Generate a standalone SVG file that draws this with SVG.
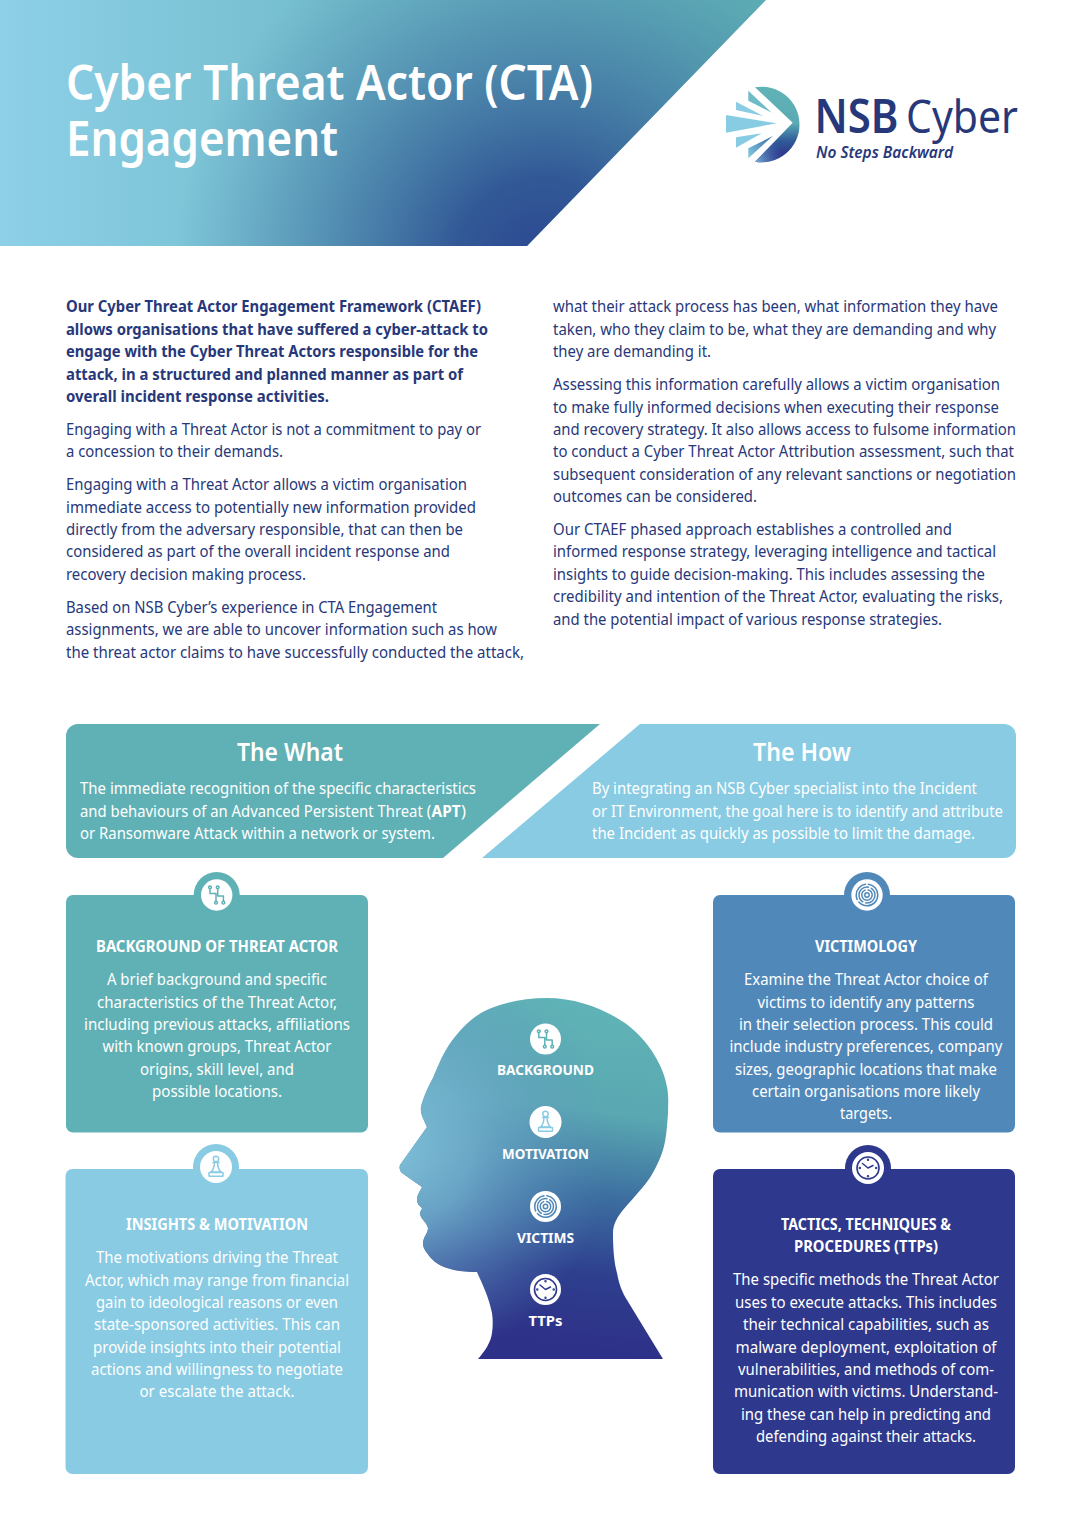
<svg xmlns="http://www.w3.org/2000/svg" width="1090" height="1520" viewBox="0 0 1090 1520">
<style>
text{font-family:"Noto Sans","Open Sans","Liberation Sans",sans-serif;}
.b{font-size:16px;fill:#27387a;}
.bb{font-size:16px;fill:#27387a;font-weight:700;}
.p{font-size:16.5px;fill:#fff;}
.pb{font-size:16.5px;fill:#fff;font-weight:700;}
.c{font-size:16.5px;fill:#fff;text-anchor:middle;}
.h{font-size:16px;fill:#fff;font-weight:700;text-anchor:middle;}
.t{font-size:26px;fill:#fff;font-weight:600;text-anchor:middle;}
.title{font-size:48px;fill:#fff;font-weight:600;}
.hl{font-size:14.5px;fill:#fff;font-weight:700;text-anchor:middle;}
.ic{fill:none;stroke:currentColor;stroke-width:1.5;stroke-linecap:round;stroke-linejoin:round;}
</style>
<defs>
<linearGradient id="g1" x1="0" y1="0" x2="766" y2="0" gradientUnits="userSpaceOnUse"><stop offset="0" stop-color="#8dd0e8"/><stop offset="0.45" stop-color="#72bccb"/><stop offset="1" stop-color="#5fb1b5"/></linearGradient>
<radialGradient id="g2" cx="545" cy="270" r="370" gradientUnits="userSpaceOnUse"><stop offset="0" stop-color="#2b4690"/><stop offset="0.25" stop-color="#2f5494" stop-opacity="0.95"/><stop offset="1" stop-color="#3f78a4" stop-opacity="0"/></radialGradient>
<linearGradient id="hg" x1="600" y1="1010" x2="560" y2="1345" gradientUnits="userSpaceOnUse"><stop offset="0" stop-color="#5fb3b6"/><stop offset="0.3" stop-color="#5aa8b2"/><stop offset="0.55" stop-color="#3c6ea0"/><stop offset="0.78" stop-color="#2e3f8e"/><stop offset="1" stop-color="#2e3188"/></linearGradient>
<radialGradient id="hl" cx="395" cy="1150" r="215" gradientUnits="userSpaceOnUse"><stop offset="0" stop-color="#7fbfd8"/><stop offset="0.35" stop-color="#74b2cf" stop-opacity="0.8"/><stop offset="1" stop-color="#5a8dbd" stop-opacity="0"/></radialGradient>
<linearGradient id="lg" x1="770" y1="90" x2="770" y2="165" gradientUnits="userSpaceOnUse"><stop offset="0" stop-color="#5fb3b6"/><stop offset="0.45" stop-color="#5aa9b4"/><stop offset="0.68" stop-color="#2f5a98"/><stop offset="0.85" stop-color="#2e3a8c"/></linearGradient>
<linearGradient id="lf" x1="755" y1="160" x2="782" y2="150" gradientUnits="userSpaceOnUse"><stop offset="0" stop-color="#7ab0d2"/><stop offset="1" stop-color="#3f6cab" stop-opacity="0"/></linearGradient>
<linearGradient id="lr" x1="748" y1="155" x2="773" y2="137" gradientUnits="userSpaceOnUse"><stop offset="0" stop-color="#80c4de"/><stop offset="1" stop-color="#3b68a4"/></linearGradient>
<g id="i-circuit" class="ic"><circle cx="-6.7" cy="-7.7" r="1.4"/><circle cx="1" cy="-7.7" r="1.4"/><circle cx="-0.7" cy="7.7" r="1.4"/><circle cx="6.7" cy="7.7" r="1.4"/><path d="M-6.7-6.3V-1.500H-.7V6.300M1-6.300V1H6.700V6.300"/></g>
<g id="i-pawn" class="ic"><circle cx="0" cy="-8" r="2.7"/><path d="M-3-4.6H3M-1.6-4.6C-1.6 0-3 3-5 5H5C3 3 1.6 0 1.6-4.6"/><rect x="-7" y="5.5" width="14" height="3.8" rx="0.6"/></g>
<g id="i-maze" class="ic"><circle cx="0" cy="0" r="2.2"/><circle cx="0" cy="0" r="5.2" stroke-dasharray="22 3"/><circle cx="0" cy="0" r="8" stroke-dasharray="14 3 22 3"/><circle cx="0" cy="0" r="10.8" stroke-dasharray="26 3 20 3"/></g>
<g id="i-clock" class="ic"><circle cx="0" cy="0" r="11" stroke-width="1.6"/><path d="M-5.5-4.5L0 0L5-2.5" stroke-width="1.5"/><circle cx="0" cy="-8.2" r=".5"/><circle cx="0" cy="8.2" r=".5"/><circle cx="-8.2" cy="0" r=".5"/><circle cx="8.2" cy="0" r=".5"/></g>
<path id="head-shape" d="M547 998C575 998 603 1008 625 1023C650 1041 664 1068 667 1087C669 1097 668 1105 668 1113C667 1128 666 1142 662 1153C657 1167 650 1179 643 1187C636 1195 629 1203 623 1210C617 1217 613 1225 613 1233C613 1248 614 1262 617 1273C619 1284 622 1292 627 1300L663 1359H478C485 1351 491 1342 492 1333C493 1326 493 1319 492 1313C489 1298 483 1285 477 1272C466 1272 456 1271 447 1268C437 1265 431 1259 427 1253C423 1248 423 1245 423 1242C424 1236 428 1233 428 1228C427 1222 420 1219 420 1213C420 1211 422 1210 422 1208C419 1206 417 1203 417 1200C417 1194 421 1190 422 1187L402 1173C400 1171 399 1168 400 1165L427 1127C424 1120 420 1114 421 1107C423 1098 428 1087 433 1078C437 1069 440 1060 446 1050C453 1038 463 1026 475 1017C488 1007 515 998 547 998Z"/>
</defs>

<g id="header">
<path d="M0 0H766L527 246H0Z" fill="url(#g1)"/>
<path d="M0 0H766L527 246H0Z" fill="url(#g2)"/>
<text class="title" x="66" y="100" textLength="527" lengthAdjust="spacingAndGlyphs">Cyber Threat Actor (CTA)</text>
<text class="title" x="66" y="156" textLength="272" lengthAdjust="spacingAndGlyphs">Engagement</text>
</g>

<g id="logo">
<path d="M755 87.3A37.8 37.8 0 1 1 755 161.7L792.7 122.7Z" fill="url(#lg)"/>
<path d="M755 87.3A37.8 37.8 0 1 1 755 161.7L792.7 122.7Z" fill="url(#lf)"/>
<path d="M748.3 90.7L771.7 112.7L748.3 100.7Z" fill="#6fbcc8"/>
<path d="M736 101.7L763.3 116L736 110Z" fill="#8acce4"/>
<path d="M726 115L776.7 123.3L726 132.7Z" fill="#88cce4"/>
<path d="M736 137.3L761.7 133.3L736 147.7Z" fill="#88cce4"/>
<path d="M748.3 148.3L772.7 136L748.3 158.3Z" fill="url(#lr)"/>
<text x="814.500" y="133" textLength="84" lengthAdjust="spacingAndGlyphs" style="font-size:46px;font-weight:600;fill:#27387a">NSB</text>
<text x="906" y="133" textLength="112" lengthAdjust="spacingAndGlyphs" style="font-size:46px;fill:#27387a">Cyber</text>
<text x="816" y="158" textLength="137" lengthAdjust="spacingAndGlyphs" style="font-size:15.5px;font-weight:600;font-style:italic;fill:#27387a">No Steps Backward</text>
</g>

<g id="intro-left">
<text class="bb" x="66" y="312" textLength="415" lengthAdjust="spacingAndGlyphs">Our Cyber Threat Actor Engagement Framework (CTAEF)</text>
<text class="bb" x="66" y="335" textLength="422" lengthAdjust="spacingAndGlyphs">allows organisations that have suffered a cyber-attack to</text>
<text class="bb" x="66" y="357" textLength="412" lengthAdjust="spacingAndGlyphs">engage with the Cyber Threat Actors responsible for the</text>
<text class="bb" x="66" y="380" textLength="397" lengthAdjust="spacingAndGlyphs">attack, in a structured and planned manner as part of</text>
<text class="bb" x="66" y="402" textLength="263" lengthAdjust="spacingAndGlyphs">overall incident response activities.</text>
<text class="b" x="66" y="435" textLength="415" lengthAdjust="spacingAndGlyphs">Engaging with a Threat Actor is not a commitment to pay or</text>
<text class="b" x="66" y="457" textLength="217" lengthAdjust="spacingAndGlyphs">a concession to their demands.</text>
<text class="b" x="66" y="490" textLength="401" lengthAdjust="spacingAndGlyphs">Engaging with a Threat Actor allows a victim organisation</text>
<text class="b" x="66" y="513" textLength="410" lengthAdjust="spacingAndGlyphs">immediate access to potentially new information provided</text>
<text class="b" x="66" y="535" textLength="397" lengthAdjust="spacingAndGlyphs">directly from the adversary responsible, that can then be</text>
<text class="b" x="66" y="557" textLength="384" lengthAdjust="spacingAndGlyphs">considered as part of the overall incident response and</text>
<text class="b" x="66" y="580" textLength="240" lengthAdjust="spacingAndGlyphs">recovery decision making process.</text>
<text class="b" x="66" y="613" textLength="371" lengthAdjust="spacingAndGlyphs">Based on NSB Cyber’s experience in CTA Engagement</text>
<text class="b" x="66" y="635" textLength="431" lengthAdjust="spacingAndGlyphs">assignments, we are able to uncover information such as how</text>
<text class="b" x="66" y="658" textLength="458" lengthAdjust="spacingAndGlyphs">the threat actor claims to have successfully conducted the attack,</text>
</g>

<g id="intro-right">
<text class="b" x="553" y="312" textLength="445" lengthAdjust="spacingAndGlyphs">what their attack process has been, what information they have</text>
<text class="b" x="553" y="335" textLength="443" lengthAdjust="spacingAndGlyphs">taken, who they claim to be, what they are demanding and why</text>
<text class="b" x="553" y="357" textLength="158" lengthAdjust="spacingAndGlyphs">they are demanding it.</text>
<text class="b" x="553" y="390" textLength="447" lengthAdjust="spacingAndGlyphs">Assessing this information carefully allows a victim organisation</text>
<text class="b" x="553" y="413" textLength="446" lengthAdjust="spacingAndGlyphs">to make fully informed decisions when executing their response</text>
<text class="b" x="553" y="435" textLength="463" lengthAdjust="spacingAndGlyphs">and recovery strategy. It also allows access to fulsome information</text>
<text class="b" x="553" y="457" textLength="461" lengthAdjust="spacingAndGlyphs">to conduct a Cyber Threat Actor Attribution assessment, such that</text>
<text class="b" x="553" y="480" textLength="463" lengthAdjust="spacingAndGlyphs">subsequent consideration of any relevant sanctions or negotiation</text>
<text class="b" x="553" y="502" textLength="204" lengthAdjust="spacingAndGlyphs">outcomes can be considered.</text>
<text class="b" x="553" y="535" textLength="399" lengthAdjust="spacingAndGlyphs">Our CTAEF phased approach establishes a controlled and</text>
<text class="b" x="553" y="557" textLength="443" lengthAdjust="spacingAndGlyphs">informed response strategy, leveraging intelligence and tactical</text>
<text class="b" x="553" y="580" textLength="432" lengthAdjust="spacingAndGlyphs">insights to guide decision-making. This includes assessing the</text>
<text class="b" x="553" y="602" textLength="450" lengthAdjust="spacingAndGlyphs">credibility and intention of the Threat Actor, evaluating the risks,</text>
<text class="b" x="553" y="625" textLength="389" lengthAdjust="spacingAndGlyphs">and the potential impact of various response strategies.</text>
</g>

<g id="the-what">
<path d="M78 724H600L443 858H78A12 12 0 0 1 66 846V736A12 12 0 0 1 78 724Z" fill="#5fb1b5"/>
<text class="t" x="290" y="761" textLength="106" lengthAdjust="spacingAndGlyphs">The What</text>
<text class="p" x="80" y="794" textLength="396" lengthAdjust="spacingAndGlyphs">The immediate recognition of the specific characteristics</text>
<text class="p" transform="translate(80 817) scale(.88 1)" textLength="399" lengthAdjust="spacingAndGlyphs">and behaviours of an Advanced Persistent Threat (</text>
<text class="pb" transform="translate(431.500 817) scale(.88 1)" textLength="33" lengthAdjust="spacingAndGlyphs">APT</text>
<text class="p" transform="translate(461 817) scale(.88 1)" textLength="5.700" lengthAdjust="spacingAndGlyphs">)</text>
<text class="p" x="80" y="839" textLength="355" lengthAdjust="spacingAndGlyphs">or Ransomware Attack within a network or system.</text>
</g>

<g id="the-how">
<path d="M640 724H1004A12 12 0 0 1 1016 736V846A12 12 0 0 1 1004 858H482Z" fill="#88cbe3"/>
<text class="t" x="802" y="761" textLength="98" lengthAdjust="spacingAndGlyphs">The How</text>
<text class="p" x="592" y="794" textLength="385" lengthAdjust="spacingAndGlyphs">By integrating an NSB Cyber specialist into the Incident</text>
<text class="p" x="592" y="817" textLength="411" lengthAdjust="spacingAndGlyphs">or IT Environment, the goal here is to identify and attribute</text>
<text class="p" x="592" y="839" textLength="383" lengthAdjust="spacingAndGlyphs">the Incident as quickly as possible to limit the damage.</text>
</g>

<g id="card-background" style="color:#5fb1b5">
<rect x="66" y="895" width="302" height="237.500" rx="7" fill="#5fb1b5"/>
<circle cx="216.700" cy="895" r="23" fill="#5fb1b5"/>
<circle cx="216.700" cy="895" r="15.700" fill="#fff"/>
<use href="#i-circuit" x="216.700" y="895"/>
<text class="h" x="217" y="952" textLength="242" lengthAdjust="spacingAndGlyphs">BACKGROUND OF THREAT ACTOR</text>
<text class="c" x="217" y="985" textLength="220" lengthAdjust="spacingAndGlyphs">A brief background and specific</text>
<text class="c" x="217" y="1008" textLength="240" lengthAdjust="spacingAndGlyphs">characteristics of the Threat Actor,</text>
<text class="c" x="217" y="1030" textLength="266" lengthAdjust="spacingAndGlyphs">including previous attacks, affiliations</text>
<text class="c" x="217" y="1052" textLength="229" lengthAdjust="spacingAndGlyphs">with known groups, Threat Actor</text>
<text class="c" x="217" y="1075" textLength="154" lengthAdjust="spacingAndGlyphs">origins, skill level, and</text>
<text class="c" x="217" y="1097" textLength="130" lengthAdjust="spacingAndGlyphs">possible locations.</text>
</g>

<g id="card-insights" style="color:#88cbe3">
<rect x="65.500" y="1169" width="302.500" height="305" rx="7" fill="#88cbe3"/>
<circle cx="216" cy="1167" r="23" fill="#88cbe3"/>
<circle cx="216" cy="1167" r="16" fill="#fff"/>
<use href="#i-pawn" x="216" y="1167"/>
<text class="h" x="217" y="1230" textLength="182" lengthAdjust="spacingAndGlyphs">INSIGHTS &amp; MOTIVATION</text>
<text class="c" x="217" y="1263" textLength="242" lengthAdjust="spacingAndGlyphs">The motivations driving the Threat</text>
<text class="c" x="217" y="1286" textLength="264" lengthAdjust="spacingAndGlyphs">Actor, which may range from financial</text>
<text class="c" x="217" y="1308" textLength="242" lengthAdjust="spacingAndGlyphs">gain to ideological reasons or even</text>
<text class="c" x="217" y="1330" textLength="246" lengthAdjust="spacingAndGlyphs">state-sponsored activities. This can</text>
<text class="c" x="217" y="1353" textLength="248" lengthAdjust="spacingAndGlyphs">provide insights into their potential</text>
<text class="c" x="217" y="1375" textLength="252" lengthAdjust="spacingAndGlyphs">actions and willingness to negotiate</text>
<text class="c" x="217" y="1397" textLength="155" lengthAdjust="spacingAndGlyphs">or escalate the attack.</text>
</g>

<g id="card-victimology" style="color:#5188ba">
<rect x="713" y="895" width="302" height="237.500" rx="7" fill="#5188ba"/>
<circle cx="867" cy="895" r="23" fill="#5188ba"/>
<circle cx="867" cy="895" r="15.700" fill="#fff"/>
<use href="#i-maze" x="867" y="895"/>
<text class="h" x="866" y="952" textLength="102" lengthAdjust="spacingAndGlyphs">VICTIMOLOGY</text>
<text class="c" x="866" y="985" textLength="244" lengthAdjust="spacingAndGlyphs">Examine the Threat Actor choice of</text>
<text class="c" x="866" y="1008" textLength="217" lengthAdjust="spacingAndGlyphs">victims to identify any patterns</text>
<text class="c" x="866" y="1030" textLength="254" lengthAdjust="spacingAndGlyphs">in their selection process. This could</text>
<text class="c" x="866" y="1052" textLength="273" lengthAdjust="spacingAndGlyphs">include industry preferences, company</text>
<text class="c" x="866" y="1075" textLength="262" lengthAdjust="spacingAndGlyphs">sizes, geographic locations that make</text>
<text class="c" x="866" y="1097" textLength="228" lengthAdjust="spacingAndGlyphs">certain organisations more likely</text>
<text class="c" x="866" y="1119" textLength="52" lengthAdjust="spacingAndGlyphs">targets.</text>
</g>

<g id="card-ttps" style="color:#2e388c">
<rect x="713" y="1169" width="302" height="305" rx="7" fill="#2e388c"/>
<circle cx="868" cy="1168" r="23" fill="#2e388c"/>
<circle cx="868" cy="1168" r="16" fill="#fff"/>
<use href="#i-clock" x="868" y="1168"/>
<text class="h" x="866" y="1230" textLength="170" lengthAdjust="spacingAndGlyphs">TACTICS, TECHNIQUES &amp;</text>
<text class="h" x="866" y="1252" textLength="144" lengthAdjust="spacingAndGlyphs">PROCEDURES (TTPs)</text>
<text class="c" x="866" y="1285" textLength="266" lengthAdjust="spacingAndGlyphs">The specific methods the Threat Actor</text>
<text class="c" x="866" y="1308" textLength="262" lengthAdjust="spacingAndGlyphs">uses to execute attacks. This includes</text>
<text class="c" x="866" y="1330" textLength="246" lengthAdjust="spacingAndGlyphs">their technical capabilities, such as</text>
<text class="c" x="866" y="1353" textLength="261" lengthAdjust="spacingAndGlyphs">malware deployment, exploitation of</text>
<text class="c" x="866" y="1375" textLength="256" lengthAdjust="spacingAndGlyphs">vulnerabilities, and methods of com-</text>
<text class="c" x="866" y="1397" textLength="264" lengthAdjust="spacingAndGlyphs">munication with victims. Understand-</text>
<text class="c" x="866" y="1420" textLength="250" lengthAdjust="spacingAndGlyphs">ing these can help in predicting and</text>
<text class="c" x="866" y="1442" textLength="220" lengthAdjust="spacingAndGlyphs">defending against their attacks.</text>
</g>

<g id="head">
<use href="#head-shape" fill="url(#hg)"/>
<use href="#head-shape" fill="url(#hl)"/>
<g style="color:#5fb1b5"><circle cx="545.500" cy="1039" r="15.500" fill="#fff"/><use href="#i-circuit" x="545.500" y="1039"/></g>
<text class="hl" x="545.500" y="1075" textLength="97" lengthAdjust="spacingAndGlyphs">BACKGROUND</text>
<g style="color:#88cbe3"><circle cx="545.500" cy="1122" r="16" fill="#fff"/><use href="#i-pawn" x="545.500" y="1122"/></g>
<text class="hl" x="545.500" y="1159" textLength="87" lengthAdjust="spacingAndGlyphs">MOTIVATION</text>
<g style="color:#5188ba"><circle cx="545.500" cy="1206.500" r="15.500" fill="#fff"/><use href="#i-maze" x="545.500" y="1206.500"/></g>
<text class="hl" x="545.500" y="1243" textLength="57" lengthAdjust="spacingAndGlyphs">VICTIMS</text>
<g style="color:#2e388c"><circle cx="545.500" cy="1289.500" r="15.500" fill="#fff"/><use href="#i-clock" x="545.500" y="1289.500"/></g>
<text class="hl" x="545.500" y="1326" textLength="34" lengthAdjust="spacingAndGlyphs">TTPs</text>
</g>
</svg>
